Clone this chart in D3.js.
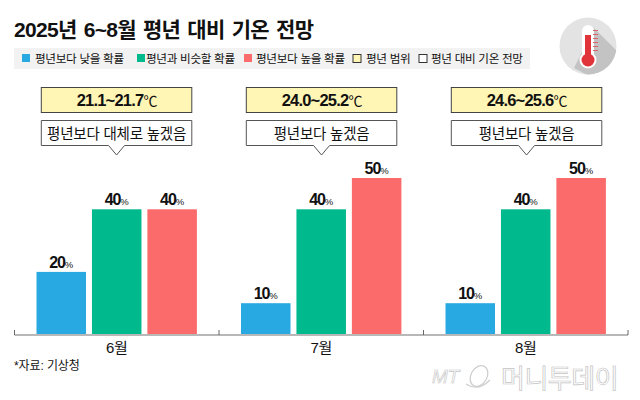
<!DOCTYPE html>
<html>
<head>
<meta charset="utf-8">
<script src="https://cdn.jsdelivr.net/npm/d3@7"></script>
<style>
  html, body { margin: 0; padding: 0; background: #fff; }
  text { font-family: "Liberation Sans", "Noto Sans CJK KR", sans-serif; fill: #111; }
</style>
</head>
<body>
<div id="chart"></div>
<script>
// chart data
const months = ["6월", "7월", "8월"]
const seriesNames = ["평년보다 낮을 확률", "평년과 비슷할 확률", "평년보다 높을 확률"]
const lowValues = [20, 10, 10]
const similarValues = [40, 40, 40]
const highValues = [40, 50, 50]
const normalRanges = ["21.1~21.7", "24.0~25.2", "24.6~25.6"]
const outlooks = ["평년보다 대체로 높겠음", "평년보다 높겠음", "평년보다 높겠음"]
const boxLegend = ["평년 범위", "평년 대비 기온 전망"]
const seriesColors = ["#29a9e1", "#00b98c", "#fb6b6b"]

const width = 640
const height = 400
const svg = d3.select("#chart").append("svg").attr("width", width).attr("height", height).style("display", "block")

// title
svg.append("text").attr("x", 14).attr("y", 37)
   .attr("font-size", 21).attr("font-weight", 700).attr("letter-spacing", -0.7)
   .attr("word-spacing", 2)
   .text("2025년 6~8월 평년 대비 기온 전망")

// legend strip
svg.append("rect").attr("x", 14).attr("y", 48).attr("width", 516).attr("height", 21).attr("fill", "#f2f2f2")
const legendX = [22, 137, 244]
const legendTextX = [35, 146, 256]
seriesNames.forEach((name, i) => {
  svg.append("rect").attr("x", legendX[i]).attr("y", 54).attr("width", 8).attr("height", 8).attr("fill", seriesColors[i])
  svg.append("text").attr("x", legendTextX[i]).attr("y", 63).attr("font-size", 11.6).attr("letter-spacing", -0.3).text(name)
})
svg.append("rect").attr("x", 353).attr("y", 54.5).attr("width", 8).attr("height", 8).attr("fill", "#fff6b5").attr("stroke", "#333")
svg.append("text").attr("x", 366).attr("y", 63).attr("font-size", 11.6).attr("letter-spacing", -0.3).text(boxLegend[0])
svg.append("rect").attr("x", 419).attr("y", 54.5).attr("width", 8).attr("height", 8).attr("fill", "#fff").attr("stroke", "#333")
svg.append("text").attr("x", 431).attr("y", 63).attr("font-size", 11.6).attr("letter-spacing", -0.3).text(boxLegend[1])

// thermometer icon
const icon = svg.append("g").attr("transform", "translate(588,46)")
icon.append("circle").attr("r", 28.5).attr("fill", "#e3e3e3")
icon.append("clipPath").attr("id", "iconClip").append("circle").attr("r", 28.5)
icon.append("path").attr("d", "M6,-18 L40,16 L20,40 L-14,22 Z").attr("fill", "#c4c3c3").attr("clip-path", "url(#iconClip)")
icon.append("rect").attr("x", -6).attr("y", -21).attr("width", 12).attr("height", 36).attr("rx", 6).attr("fill", "#fff")
icon.append("circle").attr("cy", 14).attr("r", 8.5).attr("fill", "#fff")
icon.append("rect").attr("x", -3).attr("y", -11).attr("width", 6).attr("height", 26).attr("fill", "#e0343a")
icon.append("circle").attr("cy", 14).attr("r", 6.5).attr("fill", "#e0343a")
d3.range(6).forEach(i => {
  icon.append("rect").attr("x", 5).attr("y", -16 + i * 4).attr("width", 5).attr("height", 1).attr("fill", "#d9646a")
})

// scales
const x0 = d3.scaleBand().domain(months).range([14.5, 628])
const x1 = d3.scaleBand().domain(seriesNames).range([22, 182.4]).paddingInner(0.107)
const y = d3.scaleLinear().domain([0, 50]).range([334.5, 178])
// the boxes sit on a slightly wider step than the bars
const boxScale = d3.scaleBand().domain(months).range([41.3, 656.3])

// range + outlook boxes on top of each month
months.forEach((m, i) => {
  const left = boxScale(m)
  const boxW = 150.5
  const mid = left + boxW / 2
  svg.append("rect").attr("x", left).attr("y", 87.5).attr("width", boxW).attr("height", 25)
     .attr("fill", "#fff6b5").attr("stroke", "#444")
  const rangeText = svg.append("text").attr("x", mid).attr("y", 106).attr("text-anchor", "middle")
     .attr("font-size", 16.5).attr("font-weight", 700).attr("letter-spacing", -0.8).text(normalRanges[i])
  rangeText.append("tspan").attr("font-weight", 400).attr("font-size", 14).attr("letter-spacing", -1).text("℃")
  const line = d3.line()
  svg.append("path")
     .attr("d", line([[left, 120.5], [left + boxW, 120.5], [left + boxW, 145.5], [mid + 8, 145.5], [mid, 155], [mid - 8, 145.5], [left, 145.5]]) + "Z")
     .attr("fill", "#fff").attr("stroke", "#555")
  svg.append("text").attr("x", mid).attr("y", 138.5).attr("text-anchor", "middle")
     .attr("font-size", 14.5).attr("letter-spacing", -0.2).text(outlooks[i])
})

// bars
const allValues = [lowValues, similarValues, highValues]
const groups = svg.selectAll("g.month").data(months).enter().append("g").attr("class", "month")
   .attr("transform", d => "translate(" + x0(d) + ",0)")
seriesNames.forEach((name, s) => {
  groups.append("rect")
     .attr("x", x1(name))
     .attr("y", (d, i) => y(allValues[s][i]))
     .attr("width", x1.bandwidth())
     .attr("height", (d, i) => y(0) - y(allValues[s][i]))
     .attr("fill", seriesColors[s])
  const label = groups.append("text")
     .attr("x", x1(name) + x1.bandwidth() / 2)
     .attr("y", (d, i) => y(allValues[s][i]) - 4)
     .attr("text-anchor", "middle")
     .attr("font-size", 16).attr("font-weight", 700).attr("letter-spacing", -1.1)
     .text((d, i) => allValues[s][i])
  label.append("tspan").attr("font-size", 9.5).attr("font-weight", 400).attr("letter-spacing", 0).text("%")
})

// x axis
const axisG = svg.append("g").attr("transform", "translate(0,335)")
axisG.append("line").attr("x1", 14.5).attr("x2", 628).attr("stroke", "#b8b8b8").attr("stroke-width", 2)
months.concat("end").forEach((m, i) => {
  const tx = i < 3 ? x0(m) : 628
  axisG.append("line").attr("x1", tx).attr("x2", tx).attr("y1", -5).attr("y2", 0).attr("stroke", "#666")
})
months.forEach(m => {
  svg.append("text").attr("x", x0(m) + x0.bandwidth() / 2).attr("y", 353).attr("text-anchor", "middle")
     .attr("font-size", 15).attr("letter-spacing", -0.4).text(m)
})

// source
svg.append("text").attr("x", 14).attr("y", 370).attr("font-size", 12).attr("letter-spacing", -0.1).text("*자료: 기상청")

// watermark
svg.append("text").attr("x", 432).attr("y", 383).attr("font-size", 19).attr("font-style", "italic")
   .attr("font-family", "Liberation Serif").style("fill", "#fff").attr("stroke", "#c4c4c4").attr("stroke-width", 0.6).text("MT")
svg.append("ellipse").attr("cx", 479).attr("cy", 376).attr("rx", 8).attr("ry", 11)
   .attr("transform", "rotate(30 479 376)").attr("fill", "none").attr("stroke", "#cfcfcf").attr("stroke-width", 1.3)
svg.append("path").attr("d", "M466,384 Q478,392 490,380").attr("fill", "none").attr("stroke", "#cfcfcf").attr("stroke-width", 1.3)
svg.append("text").attr("x", 501).attr("y", 388).attr("font-size", 26).attr("letter-spacing", -0.5)
   .style("fill", "#fff").attr("stroke", "#c4c4c4").attr("stroke-width", 0.7).text("머니투데이")
</script>
</body>
</html>
